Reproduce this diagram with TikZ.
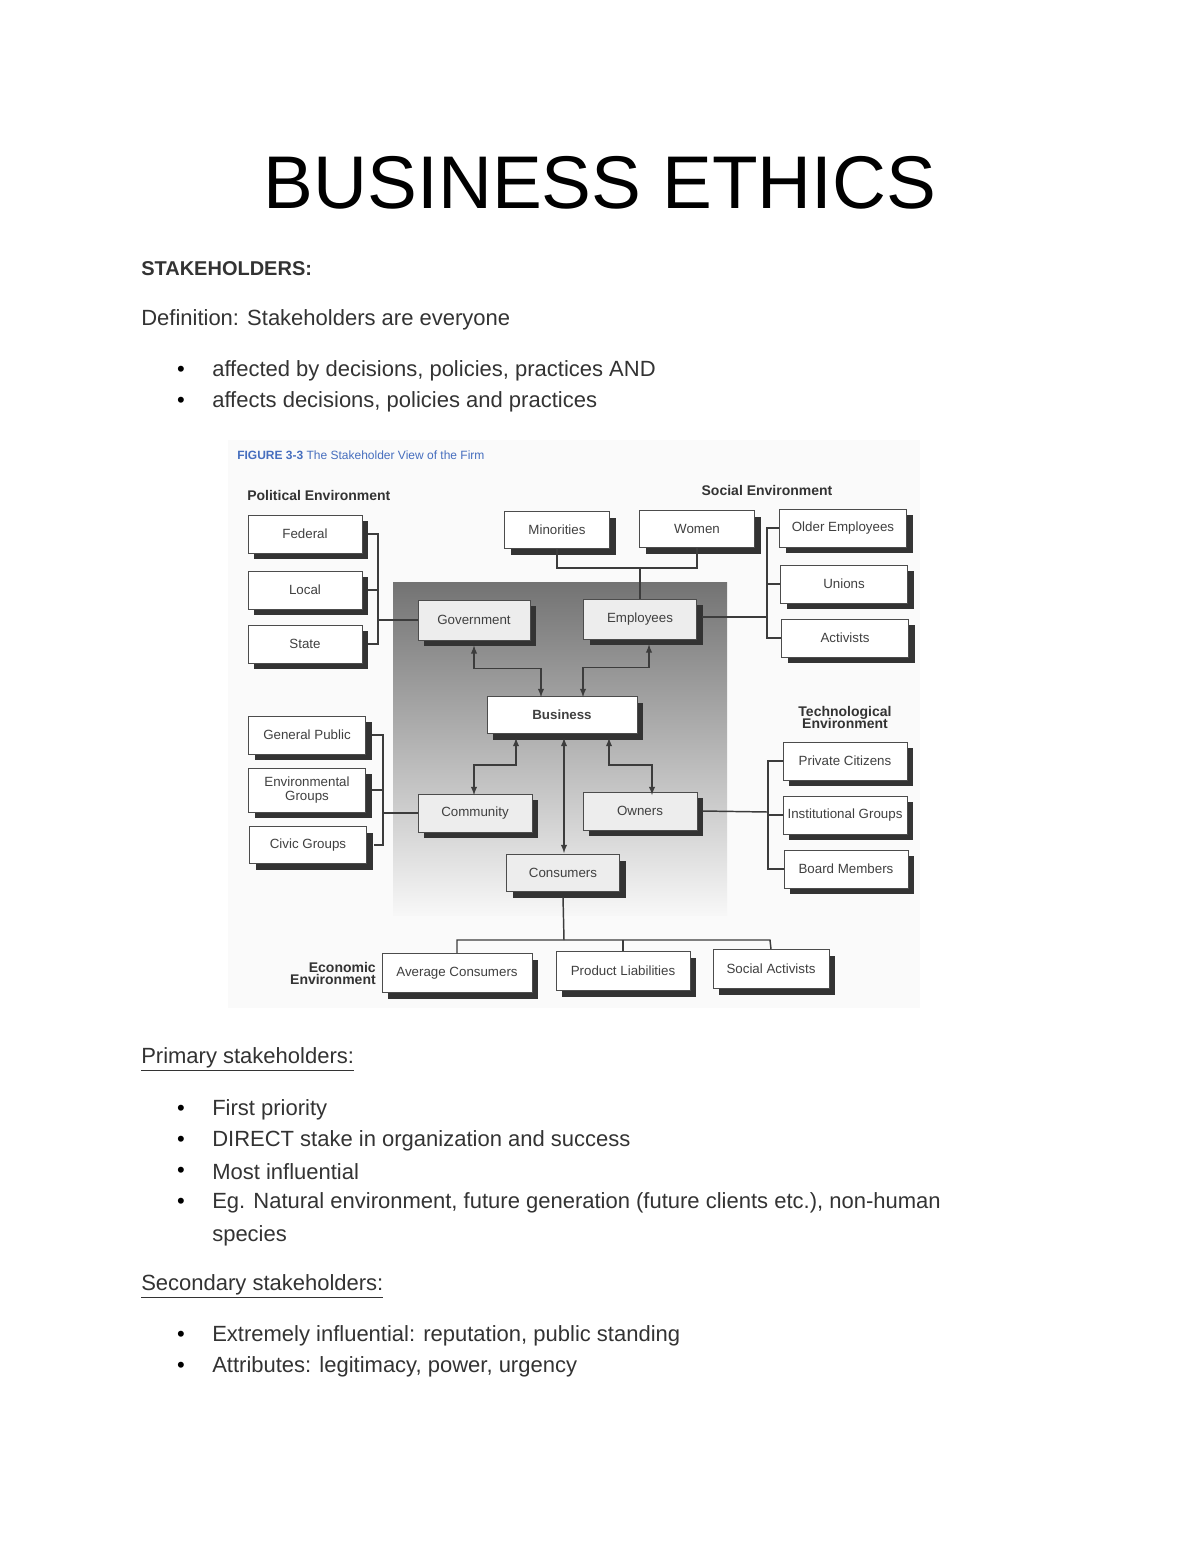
\documentclass[tikz,border=0pt]{standalone}
\usepackage{fontspec}
\setmainfont{Liberation Sans}
\usetikzlibrary{shadows}
\definecolor{figblue}{RGB}{70,110,190}
\definecolor{linec}{RGB}{60,60,60}
\begin{document}
\begin{tikzpicture}[x=0.75pt,y=-0.75pt,
  body/.style={anchor=west,inner sep=0,font=\fontsize{16.5pt}{20pt}\selectfont,text=black!80},
  bul/.style={inner sep=0,font=\fontsize{16.5pt}{20pt}\selectfont},
  sbox/.style={draw=black!70,line width=0.6pt,fill=white,font=\fontsize{10pt}{11pt}\selectfont,text=black!75,align=center,inner sep=1pt,
     drop shadow={shadow xshift=4.5pt,shadow yshift=-4.5pt,fill=black!80,opacity=1}},
  gbox/.style={sbox,fill=black!7},
  lbl/.style={font=\bfseries\fontsize{10.5pt}{11pt}\selectfont,text=black!80,inner sep=0,align=center},
  conn/.style={draw=linec,line width=1.1pt},
  arr/.style={conn,<->,>=latex}]
\useasboundingbox (0,0) rectangle (1200,1553);
\fill[white] (0,0) rectangle (1200,1553);
% title
\node[inner sep=0,font=\fontsize{56pt}{60pt}\selectfont] (title) at (600,183) {BUSINESS ETHICS};
\node[body,font=\bfseries\fontsize{15pt}{18pt}\selectfont] (stk) at (141,269) {STAKEHOLDERS:};
\node[body] (def) at (141,320) {Definition: Stakeholders are everyone};
\foreach \yy/\tt [count=\i] in {371/{affected by decisions, policies, practices AND},402/{affects decisions, policies and practices}}{
  \node[bul] (ba\i) at (181,\yy) {\textbullet};
  \node[body] (ta\i) at (212,\yy) {\tt};}
% figure background
\fill[black!2] (228,440) rectangle (920,1008);
\node[anchor=west,inner sep=0,font=\bfseries\fontsize{9pt}{10pt}\selectfont,text=figblue] (cap) at (237,455) {FIGURE 3-3 \mdseries The Stakeholder View of the Firm};
\shade[top color=black!55,bottom color=black!3] (393,582) rectangle (727,915);
% labels
\node[lbl,anchor=west] (pol) at (247,495) {Political Environment};
\node[lbl] (soc) at (767,490) {Social Environment};
\node[lbl] (tech) at (845,717) {Technological\\[-2pt]Environment};
\node[lbl,align=right,anchor=east] (eco) at (376,973) {Economic\\[-2pt]Environment};
% boxes
\newcommand{\bx}[7]{\node[#7,minimum width=0.75*#4pt,minimum height=0.75*#5pt] (#1) at (#2,#3) {#6};}
\bx{fed}{305}{534}{114}{38}{Federal}{sbox}
\bx{loc}{305}{590}{114}{38}{Local}{sbox}
\bx{sta}{305}{644}{114}{38}{State}{sbox}
\bx{min}{557}{530}{105}{37}{Minorities}{sbox}
\bx{wom}{697}{529}{115}{37}{Women}{sbox}
\bx{old}{843}{528}{127}{38}{Older Employees}{sbox}
\bx{uni}{844}{584}{127}{38}{Unions}{sbox}
\bx{act}{845}{638}{127}{38}{Activists}{sbox}
\bx{gov}{474}{620}{112}{40}{Government}{gbox}
\bx{emp}{640}{619}{113}{40}{Employees}{gbox}
\bx{bus}{562}{715}{150}{37}{\bfseries Business}{sbox}
\bx{com}{475}{813}{114}{38}{Community}{gbox}
\bx{own}{640}{811}{114}{38}{Owners}{gbox}
\bx{con}{563}{873}{113}{37}{Consumers}{gbox}
\bx{gp}{307}{735}{117}{38}{General Public}{sbox}
\bx{env}{307}{790}{117}{44}{Environmental\\Groups}{sbox}
\bx{civ}{308}{845}{117}{37}{Civic Groups}{sbox}
\bx{pc}{845}{761}{124}{38}{Private Citizens}{sbox}
\bx{ig}{845}{815}{124}{38}{Institutional Groups}{sbox}
\bx{bm}{846}{869}{124}{38}{Board Members}{sbox}
\bx{avg}{457}{973}{150}{39}{Average Consumers}{sbox}
\bx{pl}{623}{971}{134}{39}{Product Liabilities}{sbox}
\bx{sa}{771}{969}{116}{39}{Social Activists}{sbox}
% political bracket
\coordinate (pb1) at (378,534); \coordinate (pb2) at (378,644);
\draw[conn] (fed.east) ++(6,0) -| (pb1) -- (pb2) -- ++(-10,0);
\draw[conn] (loc.east) ++(6,0) -- (378,590);
\draw[conn] (378,620) -- (gov.west);
% social
\draw[conn] (min.south) |- (640,568) -| (wom.south);
\draw[conn] (640,568) -- (emp.north);
\draw[conn] (old.west) -- (767,528) -- (767,638) -- (act.west);
\draw[conn] (uni.west) -- (767,584);
\draw[conn] (emp.east) ++(5,-2) -- (767,617);
% arrows business
\draw[arr] (gov.south) ++(0,5) -- ++(0,23) -| (541,697);
\draw[arr] (emp.south) ++(9,5) -- ++(0,23) -| (583,697);
\draw[arr] (516,738) -- (516,765) -| (474,795);
\draw[arr] (609,738) -- (609,765) -| (652,795);
\draw[arr] (564,738) -- (564,853);
% left community
\draw[conn] (gp.east) ++(6,0) -- (383,735) -- (383,845) -- ++(-9,0);
\draw[conn] (env.east) ++(6,0) -- (383,790);
\draw[conn] (383,813) -- (com.west);
% tech
\draw[conn] (pc.west) -- (768,761) -- (768,869) -- (bm.west);
\draw[conn] (ig.west) -- (768,815);
\draw[conn] (own.east) ++(5,0) -- (768,812);
% economic
\draw[conn] (con.south) ++(0,5) -- (564,940);
\draw[conn] (avg.north) -- (457,940) -- (770,940) -- (sa.north);
\draw[conn] (623,940) -- (pl.north);
% lower text
\node[body] (prim) at (141,1059) {\underline{Primary stakeholders:}};
\foreach \yy/\tt [count=\i] in {1110/{First priority},1141/{DIRECT stake in organization and success},1172/{Most influential},1203/{Eg. Natural environment, future generation (future clients etc.), non-human}}{
  \node[bul] (bp\i) at (181,\yy) {\textbullet};
  \node[body] (tp\i) at (212,\yy) {\tt};}
\node[body] (spec) at (212,1236) {species};
\node[body] (sec) at (141,1286) {\underline{Secondary stakeholders:}};
\foreach \yy/\tt [count=\i] in {1336/{Extremely influential: reputation, public standing},1367/{Attributes: legitimacy, power, urgency}}{
  \node[bul] (bs\i) at (181,\yy) {\textbullet};
  \node[body] (ts\i) at (212,\yy) {\tt};}
\end{tikzpicture}
\end{document}
